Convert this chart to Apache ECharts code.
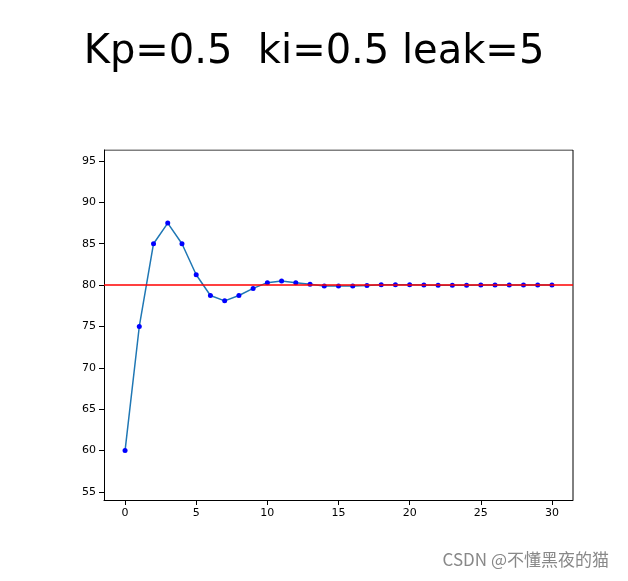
<!DOCTYPE html><html><head><meta charset="utf-8"><script src="https://cdn.jsdelivr.net/npm/echarts@6/dist/echarts.min.js"></script>
<style>body{margin:0;background:#fff}#c{width:628px;height:581px}</style></head><body><div id="c"></div><script>
const xs=[0,1,2,3,4,5,6,7,8,9,10,11,12,13,14,15,16,17,18,19,20,21,22,23,24,25,26,27,28,29,30];
const ys=[60,75,85,87.5,85,81.25,78.75,78.1,78.75,79.6,80.3,80.5,80.3,80.1,79.9,79.9,79.9,79.95,80.05,80.05,80.03,80,79.98,79.98,79.99,80,80,80,80,80,80];
const setpoint=80;
const xTicks=[0,5,10,15,20,25,30], yTicks=[55,60,65,70,75,80,85,90,95];
const chart=echarts.init(document.getElementById('c'));
const ax={color:'#000',fontSize:11,fontFamily:'DejaVu Sans'};
chart.setOption({animation:false,
title:[{text:'Kp=0.5  ki=0.5 leak=5',left:'center',top:28,textStyle:{fontSize:40,fontWeight:'normal',color:'#000',fontFamily:'DejaVu Sans'}},
{text:'CSDN @不懂黑夜的猫',right:14,bottom:8,textStyle:{fontSize:17,fontWeight:'normal',color:'#888',fontFamily:'Noto Sans CJK SC'}}],
grid:{left:104,top:150,width:469,height:350},
xAxis:{type:'value',min:-1.48,max:31.48,axisLine:{onZero:false,lineStyle:{color:'#000'}},splitLine:{show:false},
axisLabel:Object.assign({},ax,{customValues:xTicks}),axisTick:{customValues:xTicks,lineStyle:{color:'#000'}}},
yAxis:{type:'value',min:54.03,max:96.33,axisLine:{show:true,onZero:false,lineStyle:{color:'#000'}},splitLine:{show:false},
axisLabel:Object.assign({},ax,{customValues:yTicks}),axisTick:{show:true,customValues:yTicks,lineStyle:{color:'#000'}}},
series:[{type:'line',data:[],symbol:'none',markLine:{silent:true,symbol:'none',label:{show:false},lineStyle:{color:'#ff0000',width:1.5,type:'solid'},data:[{yAxis:setpoint}]},z:1},
{type:'line',data:xs.map((x,i)=>[x,ys[i]]),symbol:'circle',symbolSize:5,itemStyle:{color:'#0000ff'},lineStyle:{color:'#1f77b4',width:1.5},z:2},
{type:'line',data:[[-1.48,96.33],[31.48,96.33]],symbol:'none',lineStyle:{color:'#000',width:1},silent:true},
{type:'line',data:[[31.48,54.03],[31.48,96.33]],symbol:'none',lineStyle:{color:'#000',width:1},silent:true}]});
</script></body></html>
